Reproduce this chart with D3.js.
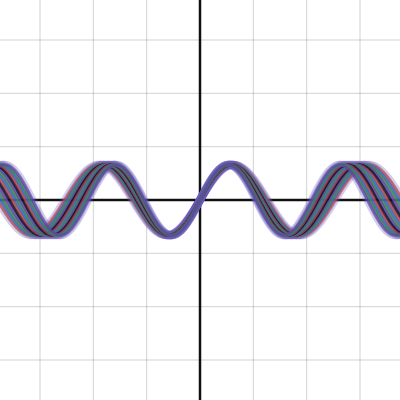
<!DOCTYPE html>
<html><head><meta charset="utf-8">
<script src="https://cdn.jsdelivr.net/npm/d3@7"></script>
<style>body{margin:0;background:#fff}</style></head>
<body><svg id="chart" width="400" height="400"></svg>
<script>
// wave family: y = amp * sin(k * x)
const amp = 0.66;
const freqs = [2.48, 2.52, 2.56, 2.6, 2.64, 2.68, 2.72, 2.76, 2.8, 2.84, 2.88, 2.92, 2.96, 3.0];
const colors = ['#c74440', '#2d70b3', '#388c46', '#6042a6', '#000000'];
const gridTicks = [-3, -2, -1, 1, 2, 3];

const size = 400;
const x = d3.scaleLinear().domain([-3.75, 3.75]).range([0, size]);
const y = d3.scaleLinear().domain([-3.75, 3.75]).range([size, 0]);
const svg = d3.select('#chart');

// grid
svg.selectAll('.gx').data(gridTicks).enter().append('line')
  .attr('x1', d => x(d)).attr('x2', d => x(d)).attr('y1', 0).attr('y2', size)
  .attr('stroke', '#000').attr('stroke-opacity', 0.18);
svg.selectAll('.gy').data(gridTicks).enter().append('line')
  .attr('y1', d => y(d)).attr('y2', d => y(d)).attr('x1', 0).attr('x2', size)
  .attr('stroke', '#000').attr('stroke-opacity', 0.18);

// axes
svg.append('line').attr('x1', x(0)).attr('x2', x(0)).attr('y1', 0).attr('y2', size)
  .attr('stroke', '#111').attr('stroke-width', 2.5);
svg.append('line').attr('y1', y(0)).attr('y2', y(0)).attr('x1', 0).attr('x2', size)
  .attr('stroke', '#111').attr('stroke-width', 2.5);

const xs = d3.range(-3.8, 3.81, 0.02);
const line = d3.line().x(d => x(d[0])).y(d => y(d[1]));
const curves = freqs.map(k => xs.map(v => [v, amp * Math.sin(k * v)]));

// purple halo under the band
svg.selectAll('.halo').data(curves).enter().append('path')
  .attr('d', line).attr('fill', 'none')
  .attr('stroke', '#6a58b8').attr('stroke-width', 8).attr('stroke-opacity', 0.3);

svg.selectAll('.wave').data(curves).enter().append('path')
  .attr('d', line).attr('fill', 'none')
  .attr('stroke', (d, i) => colors[i % colors.length])
  .attr('stroke-width', 3)
  .attr('stroke-opacity', 0.7);
</script></body></html>
